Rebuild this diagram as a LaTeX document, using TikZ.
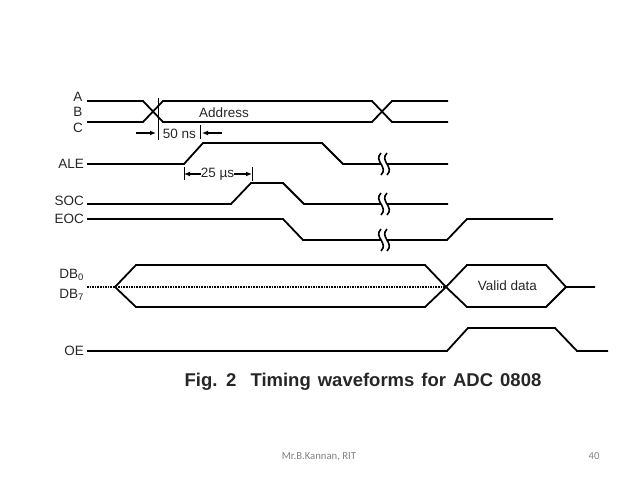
\documentclass[tikz,border=0pt]{standalone}
\usepackage{fontspec}
\setmainfont{Liberation Sans}
\newfontfamily\footfont{Carlito}
\usetikzlibrary{arrows.meta}
\tikzset{wave/.style={line width=1.8pt,line join=miter},
  dim/.style={line width=1pt},
  dimarrow/.style={line width=1.2pt,-{Latex[length=6pt,width=5pt]}},
  lbl/.style={font=\fontsize{13.5}{15}\selectfont,text=black!85,inner sep=0pt},
  foot/.style={font=\footfont\fontsize{10.7}{12}\selectfont,text=black!50,inner sep=0pt,anchor=base}}
\begin{document}
\begin{tikzpicture}[x=1pt,y=-1pt]
\useasboundingbox (0,0) rectangle (638,478);
\node[lbl] (labelA) at (78,97) {A};
\node[lbl] (labelB) at (78,112) {B};
\node[lbl] (labelC) at (78,128) {C};
\node[lbl,anchor=east] (labelALE) at (84,164) {ALE};
\node[lbl,anchor=east] (labelSOC) at (84,201) {SOC};
\node[lbl,anchor=east] (labelEOC) at (84,219) {EOC};
\node[lbl,anchor=east] (labelDBa) at (84,275) {DB\textsubscript{0}};
\node[lbl,anchor=east] (labelDBb) at (84,295) {DB\textsubscript{7}};
\node[lbl,anchor=east] (labelOE) at (84,351) {OE};
\draw[wave] (87,101) -- (143,101) -- (163,122) -- (372,122) -- (392,101) -- (448,101);
\draw[wave] (87,122) -- (143,122) -- (163,101) -- (372,101) -- (392,122) -- (448,122);
\draw[wave] (87,164) -- (184,164) -- (203,143) -- (322,143) -- (343,164) -- (448,164);
\draw[wave] (87,204) -- (231,204) -- (251,183) -- (283,183) -- (304,204) -- (448,204);
\draw[wave] (87,219) -- (283,219) -- (303,240) -- (447,240) -- (467,219) -- (553,219);
\draw[wave] (115,287) -- (136,265) -- (425,265) -- (446,287) -- (467,307) -- (546,307) -- (566,287) -- (595,287);
\draw[wave] (115,287) -- (136,307) -- (425,307) -- (446,287) -- (467,265) -- (546,265) -- (566,287);
\draw[line width=1.1pt,dash pattern=on 1.6pt off 1pt] (87,287) -- (446,287);
\draw[wave] (87,351) -- (447,351) -- (468,328) -- (555,328) -- (577,351) -- (608,351);
\foreach \y in {164,204,240} {
  \fill[white] (381,\y-11) rectangle (387,\y+11);
  \foreach \x in {381,387}
    \draw[line width=1.6pt] (\x,\y-11) .. controls (\x-8,\y-3) and (\x+8,\y+3) .. (\x,\y+11);
}
\coordinate (tickA) at (158,98);
\coordinate (tickB) at (158,140);
\coordinate (tickC) at (200,125);
\coordinate (tickD) at (200,139);
\draw[dim] (tickA) -- (tickB);
\draw[dim] (tickC) -- (tickD);
\coordinate (arrowA) at (136,133);
\coordinate (arrowB) at (156,133);
\coordinate (arrowC) at (222,133);
\coordinate (arrowD) at (202,133);
\draw[dimarrow] (arrowA) -- (arrowB);
\draw[dimarrow] (arrowC) -- (arrowD);
\node[lbl] (labelNs) at (179.5,134) {50 ns};
\node[lbl] (labelAddr) at (224,113) {Address};
\coordinate (tickE) at (184,167);
\coordinate (tickF) at (184,180);
\coordinate (tickG) at (252,167);
\coordinate (tickH) at (252,181);
\draw[dim] (tickE) -- (tickF);
\draw[dim] (tickG) -- (tickH);
\node[lbl] (labelUs) at (217.5,174) {25 µs};
\draw[dimarrow] (labelUs.west) -- (tickE |- labelUs.west);
\draw[dimarrow] (labelUs.east) -- (tickG |- labelUs.east);
\node[lbl] (labelValid) at (507.5,286) {Valid data};
\node[font=\bfseries\fontsize{18.5}{20}\selectfont,text=black!85,inner sep=0pt] (caption) at (363,382) {\spaceskip=7pt Fig. 2\hspace{14pt}Timing waveforms for ADC 0808};
\node[foot] (footName) at (319,460) {Mr.B.Kannan, RIT};
\node[foot] (footPage) at (594,460) {40};
\end{tikzpicture}
\end{document}
